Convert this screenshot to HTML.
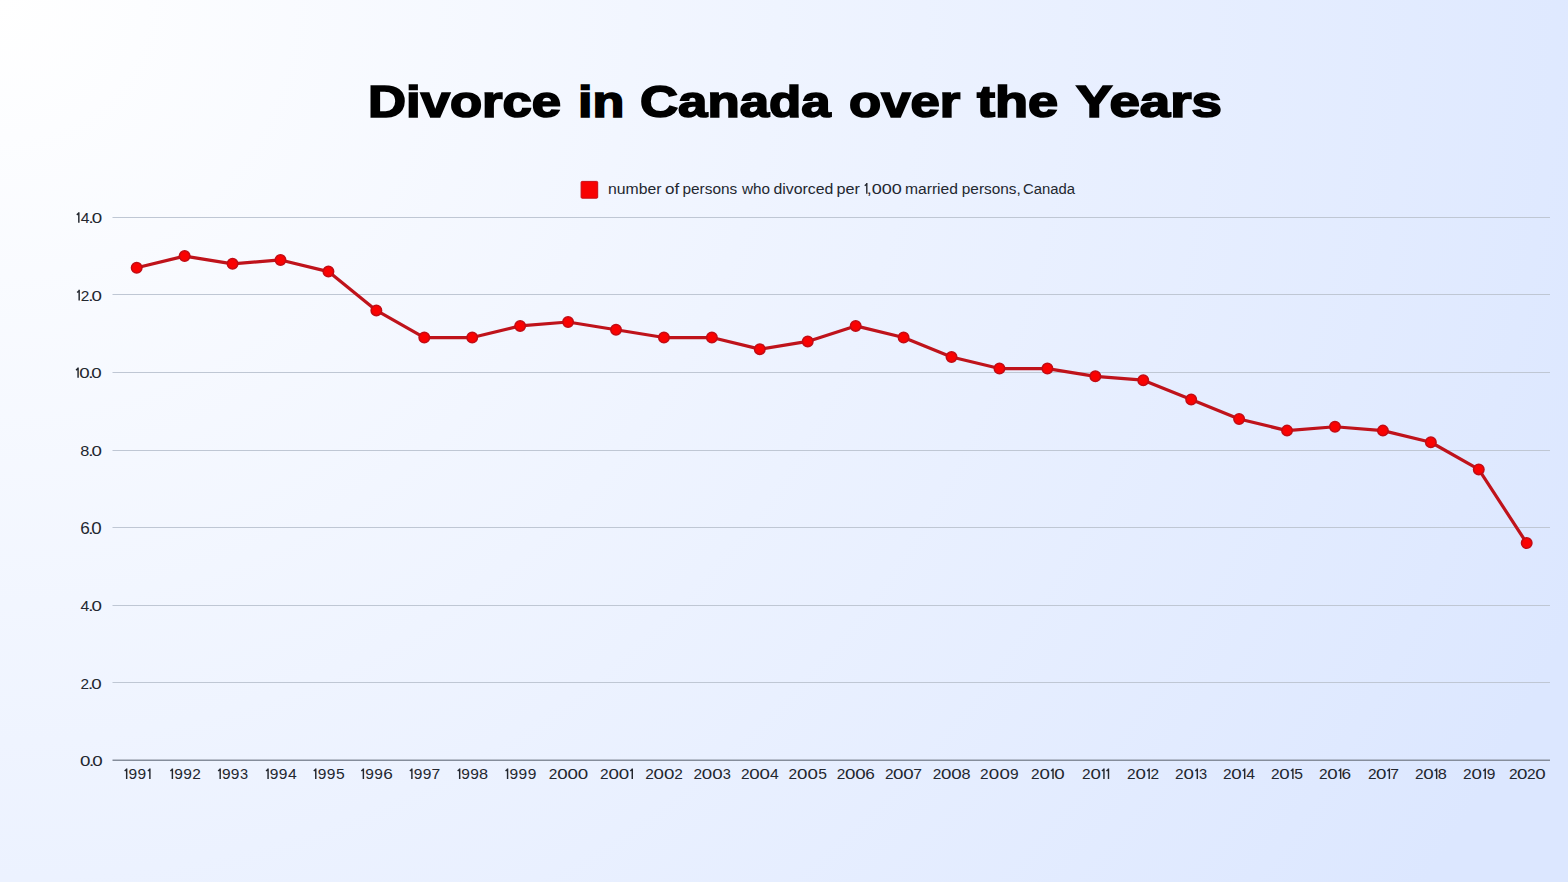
<!DOCTYPE html>
<html><head><meta charset="utf-8"><title>Divorce in Canada over the Years</title><style>
html,body{margin:0;padding:0;}
body{width:1568px;height:882px;overflow:hidden;position:relative;
background:radial-gradient(1700px 1620px at 0 0,#ffffff 0%,#dce7ff 100%);
font-family:"Liberation Sans",sans-serif;}
svg{position:absolute;left:0;top:0;}
.leg{font-family:"Liberation Sans",sans-serif;font-size:15.25px;fill:#23272f;}
.lab{font-family:"Liberation Sans",sans-serif;font-size:15px;fill:#23272f;}
.title{position:absolute;white-space:nowrap;font-family:"Liberation Sans",sans-serif;font-weight:bold;
font-size:44px;line-height:normal;color:#000;-webkit-text-stroke:1.7px #000;transform-origin:0 0;}
</style></head><body>
<div class="title" style="left:368.19px;top:76.7px;transform:scaleX(1.1966)">Divorce</div>
<div class="title" style="left:578.19px;top:76.7px;transform:scaleX(1.1857)">in</div>
<div class="title" style="left:640.20px;top:76.7px;transform:scaleX(1.1992)">Canada</div>
<div class="title" style="left:848.62px;top:76.7px;transform:scaleX(1.1963)">over</div>
<div class="title" style="left:977.27px;top:76.7px;transform:scaleX(1.2302)">the</div>
<div class="title" style="left:1076.47px;top:76.7px;transform:scaleX(1.2423)">Years</div>
<svg width="1568" height="882" viewBox="0 0 1568 882">
<line x1="112.5" y1="682.5" x2="1550.0" y2="682.5" stroke="#bfc7d4" stroke-width="1"/>
<line x1="112.5" y1="605.5" x2="1550.0" y2="605.5" stroke="#bfc7d4" stroke-width="1"/>
<line x1="112.5" y1="527.5" x2="1550.0" y2="527.5" stroke="#bfc7d4" stroke-width="1"/>
<line x1="112.5" y1="450.5" x2="1550.0" y2="450.5" stroke="#bfc7d4" stroke-width="1"/>
<line x1="112.5" y1="372.5" x2="1550.0" y2="372.5" stroke="#bfc7d4" stroke-width="1"/>
<line x1="112.5" y1="294.5" x2="1550.0" y2="294.5" stroke="#bfc7d4" stroke-width="1"/>
<line x1="112.5" y1="217.5" x2="1550.0" y2="217.5" stroke="#bfc7d4" stroke-width="1"/>
<line x1="112.5" y1="760.3" x2="1550.0" y2="760.3" stroke="#858d9b" stroke-width="1.5"/>
<path d="M78.83 212.20V222.80M76.80 214.85L78.83 213.05" stroke="#23272f" stroke-width="1.45" fill="none" stroke-linejoin="bevel"/>
<text class="lab" transform="matrix(1.0526 0 0 1.0000 80.73 222.80)">4</text>
<text class="lab" transform="matrix(1.3571 0 0 1.0000 88.27 222.80)">.</text>
<text class="lab" transform="matrix(1.2500 0 0 1.0000 91.65 222.80)">0</text>
<path d="M79.17 289.85V300.50M77.15 292.50L79.17 290.70" stroke="#23272f" stroke-width="1.45" fill="none" stroke-linejoin="bevel"/>
<text class="lab" transform="matrix(1.0294 0 0 1.0047 80.83 300.50)">2</text>
<text class="lab" transform="matrix(1.3571 0 0 1.0000 88.06 300.50)">.</text>
<text class="lab" transform="matrix(1.2500 0 0 1.0047 91.50 300.50)">0</text>
<path d="M78.08 367.50V377.80M76.05 370.15L78.08 368.35" stroke="#23272f" stroke-width="1.45" fill="none" stroke-linejoin="bevel"/>
<text class="lab" transform="matrix(1.2500 0 0 0.9717 79.22 377.80)">0</text>
<text class="lab" transform="matrix(1.3571 0 0 1.0000 87.94 377.80)">.</text>
<text class="lab" transform="matrix(1.2500 0 0 0.9717 91.25 377.80)">0</text>
<text class="lab" transform="matrix(1.0857 0 0 1.0189 80.34 455.80)">8</text>
<text class="lab" transform="matrix(1.3571 0 0 1.0000 88.08 455.80)">.</text>
<text class="lab" transform="matrix(1.2500 0 0 1.0189 91.50 455.80)">0</text>
<text class="lab" transform="matrix(1.1449 0 0 1.0377 80.28 533.50)">6</text>
<text class="lab" transform="matrix(1.3571 0 0 1.0000 88.05 533.50)">.</text>
<text class="lab" transform="matrix(1.2500 0 0 1.0377 91.35 533.50)">0</text>
<text class="lab" transform="matrix(1.0526 0 0 1.0000 80.48 610.70)">4</text>
<text class="lab" transform="matrix(1.3571 0 0 1.0000 88.10 610.70)">.</text>
<text class="lab" transform="matrix(1.2500 0 0 1.0000 91.50 610.70)">0</text>
<text class="lab" transform="matrix(1.0294 0 0 1.0283 80.38 688.60)">2</text>
<text class="lab" transform="matrix(1.3571 0 0 1.0000 87.85 688.60)">.</text>
<text class="lab" transform="matrix(1.2500 0 0 1.0283 91.35 688.60)">0</text>
<text class="lab" transform="matrix(1.2500 0 0 1.0000 80.05 766.00)">0</text>
<text class="lab" transform="matrix(1.3571 0 0 1.0000 88.83 766.00)">.</text>
<text class="lab" transform="matrix(1.2500 0 0 1.0000 92.15 766.00)">0</text>
<path d="M126.67 768.40V779.00M124.65 771.05L126.67 769.25" stroke="#23272f" stroke-width="1.45" fill="none" stroke-linejoin="bevel"/>
<text class="lab" transform="matrix(1.0362 0 0 1.0000 128.54 779.00)">9</text>
<text class="lab" transform="matrix(1.0362 0 0 1.0000 137.56 779.00)">9</text>
<path d="M149.88 768.40V779.00M147.85 771.05L149.88 769.25" stroke="#23272f" stroke-width="1.45" fill="none" stroke-linejoin="bevel"/>
<path d="M172.38 768.40V779.00M170.35 771.05L172.38 769.25" stroke="#23272f" stroke-width="1.45" fill="none" stroke-linejoin="bevel"/>
<text class="lab" transform="matrix(1.0362 0 0 1.0000 174.24 779.00)">9</text>
<text class="lab" transform="matrix(1.0362 0 0 1.0000 183.26 779.00)">9</text>
<text class="lab" transform="matrix(1.0294 0 0 1.0000 192.18 779.00)">2</text>
<path d="M220.18 768.40V779.00M218.15 771.05L220.18 769.25" stroke="#23272f" stroke-width="1.45" fill="none" stroke-linejoin="bevel"/>
<text class="lab" transform="matrix(1.0362 0 0 1.0000 221.94 779.00)">9</text>
<text class="lab" transform="matrix(1.0362 0 0 1.0000 230.86 779.00)">9</text>
<text class="lab" transform="matrix(0.9718 0 0 1.0000 239.92 779.00)">3</text>
<path d="M268.07 768.40V779.00M266.05 771.05L268.07 769.25" stroke="#23272f" stroke-width="1.45" fill="none" stroke-linejoin="bevel"/>
<text class="lab" transform="matrix(1.0362 0 0 1.0000 269.84 779.00)">9</text>
<text class="lab" transform="matrix(1.0362 0 0 1.0000 278.76 779.00)">9</text>
<text class="lab" transform="matrix(1.0526 0 0 1.0000 288.08 779.00)">4</text>
<path d="M315.77 768.40V779.00M313.75 771.05L315.77 769.25" stroke="#23272f" stroke-width="1.45" fill="none" stroke-linejoin="bevel"/>
<text class="lab" transform="matrix(1.0362 0 0 1.0000 317.74 779.00)">9</text>
<text class="lab" transform="matrix(1.0362 0 0 1.0000 326.86 779.00)">9</text>
<text class="lab" transform="matrix(1.0423 0 0 1.0000 336.07 779.00)">5</text>
<path d="M363.38 768.40V779.00M361.35 771.05L363.38 769.25" stroke="#23272f" stroke-width="1.45" fill="none" stroke-linejoin="bevel"/>
<text class="lab" transform="matrix(1.0362 0 0 1.0000 365.27 779.00)">9</text>
<text class="lab" transform="matrix(1.0362 0 0 1.0000 374.32 779.00)">9</text>
<text class="lab" transform="matrix(1.1449 0 0 1.0000 383.18 779.00)">6</text>
<path d="M411.88 768.40V779.00M409.85 771.05L411.88 769.25" stroke="#23272f" stroke-width="1.45" fill="none" stroke-linejoin="bevel"/>
<text class="lab" transform="matrix(1.0362 0 0 1.0000 413.71 779.00)">9</text>
<text class="lab" transform="matrix(1.0362 0 0 1.0000 422.69 779.00)">9</text>
<text class="lab" transform="matrix(1.0441 0 0 1.0000 431.56 779.00)">7</text>
<path d="M459.68 768.40V779.00M457.65 771.05L459.68 769.25" stroke="#23272f" stroke-width="1.45" fill="none" stroke-linejoin="bevel"/>
<text class="lab" transform="matrix(1.0362 0 0 1.0000 461.37 779.00)">9</text>
<text class="lab" transform="matrix(1.0362 0 0 1.0000 470.22 779.00)">9</text>
<text class="lab" transform="matrix(1.0857 0 0 1.0000 479.04 779.00)">8</text>
<path d="M507.57 768.40V779.00M505.55 771.05L507.57 769.25" stroke="#23272f" stroke-width="1.45" fill="none" stroke-linejoin="bevel"/>
<text class="lab" transform="matrix(1.0362 0 0 1.0000 509.52 779.00)">9</text>
<text class="lab" transform="matrix(1.0362 0 0 1.0000 518.62 779.00)">9</text>
<text class="lab" transform="matrix(1.0362 0 0 1.0000 527.72 779.00)">9</text>
<text class="lab" transform="matrix(1.0294 0 0 1.0000 548.83 779.00)">2</text>
<text class="lab" transform="matrix(1.2500 0 0 1.0000 557.18 779.00)">0</text>
<text class="lab" transform="matrix(1.2500 0 0 1.0000 567.47 779.00)">0</text>
<text class="lab" transform="matrix(1.2500 0 0 1.0000 577.75 779.00)">0</text>
<text class="lab" transform="matrix(1.0294 0 0 1.0000 600.08 779.00)">2</text>
<text class="lab" transform="matrix(1.2500 0 0 1.0000 608.42 779.00)">0</text>
<text class="lab" transform="matrix(1.2500 0 0 1.0000 618.68 779.00)">0</text>
<path d="M632.27 768.40V779.00M630.25 771.05L632.27 769.25" stroke="#23272f" stroke-width="1.45" fill="none" stroke-linejoin="bevel"/>
<text class="lab" transform="matrix(1.0294 0 0 1.0000 645.18 779.00)">2</text>
<text class="lab" transform="matrix(1.2500 0 0 1.0000 653.58 779.00)">0</text>
<text class="lab" transform="matrix(1.2500 0 0 1.0000 663.92 779.00)">0</text>
<text class="lab" transform="matrix(1.0294 0 0 1.0000 674.18 779.00)">2</text>
<text class="lab" transform="matrix(1.0294 0 0 1.0000 693.38 779.00)">2</text>
<text class="lab" transform="matrix(1.2500 0 0 1.0000 701.82 779.00)">0</text>
<text class="lab" transform="matrix(1.2500 0 0 1.0000 712.18 779.00)">0</text>
<text class="lab" transform="matrix(0.9718 0 0 1.0000 722.72 779.00)">3</text>
<text class="lab" transform="matrix(1.0294 0 0 1.0000 740.88 779.00)">2</text>
<text class="lab" transform="matrix(1.2500 0 0 1.0000 749.18 779.00)">0</text>
<text class="lab" transform="matrix(1.2500 0 0 1.0000 759.42 779.00)">0</text>
<text class="lab" transform="matrix(1.0526 0 0 1.0000 770.08 779.00)">4</text>
<text class="lab" transform="matrix(1.0294 0 0 1.0000 788.48 779.00)">2</text>
<text class="lab" transform="matrix(1.2500 0 0 1.0000 797.08 779.00)">0</text>
<text class="lab" transform="matrix(1.2500 0 0 1.0000 807.62 779.00)">0</text>
<text class="lab" transform="matrix(1.0423 0 0 1.0000 818.27 779.00)">5</text>
<text class="lab" transform="matrix(1.0294 0 0 1.0000 836.68 779.00)">2</text>
<text class="lab" transform="matrix(1.2500 0 0 1.0000 844.98 779.00)">0</text>
<text class="lab" transform="matrix(1.2500 0 0 1.0000 855.22 779.00)">0</text>
<text class="lab" transform="matrix(1.1449 0 0 1.0000 865.28 779.00)">6</text>
<text class="lab" transform="matrix(1.0294 0 0 1.0000 884.88 779.00)">2</text>
<text class="lab" transform="matrix(1.2500 0 0 1.0000 893.08 779.00)">0</text>
<text class="lab" transform="matrix(1.2500 0 0 1.0000 903.22 779.00)">0</text>
<text class="lab" transform="matrix(1.0441 0 0 1.0000 913.26 779.00)">7</text>
<text class="lab" transform="matrix(1.0294 0 0 1.0000 932.68 779.00)">2</text>
<text class="lab" transform="matrix(1.2500 0 0 1.0000 941.02 779.00)">0</text>
<text class="lab" transform="matrix(1.2500 0 0 1.0000 951.28 779.00)">0</text>
<text class="lab" transform="matrix(1.0857 0 0 1.0000 961.54 779.00)">8</text>
<text class="lab" transform="matrix(1.0294 0 0 1.0000 980.08 779.00)">2</text>
<text class="lab" transform="matrix(1.2500 0 0 1.0000 988.80 779.00)">0</text>
<text class="lab" transform="matrix(1.2500 0 0 1.0000 999.45 779.00)">0</text>
<text class="lab" transform="matrix(1.0362 0 0 1.0000 1010.12 779.00)">9</text>
<text class="lab" transform="matrix(1.0294 0 0 1.0000 1031.08 779.00)">2</text>
<text class="lab" transform="matrix(1.2500 0 0 1.0000 1039.42 779.00)">0</text>
<path d="M1053.01 768.40V779.00M1050.98 771.05L1053.01 769.25" stroke="#23272f" stroke-width="1.45" fill="none" stroke-linejoin="bevel"/>
<text class="lab" transform="matrix(1.2500 0 0 1.0000 1054.25 779.00)">0</text>
<text class="lab" transform="matrix(1.0294 0 0 1.0000 1082.08 779.00)">2</text>
<text class="lab" transform="matrix(1.2500 0 0 1.0000 1090.38 779.00)">0</text>
<path d="M1103.94 768.40V779.00M1101.92 771.05L1103.94 769.25" stroke="#23272f" stroke-width="1.45" fill="none" stroke-linejoin="bevel"/>
<path d="M1108.48 768.40V779.00M1106.45 771.05L1108.48 769.25" stroke="#23272f" stroke-width="1.45" fill="none" stroke-linejoin="bevel"/>
<text class="lab" transform="matrix(1.0294 0 0 1.0000 1127.08 779.00)">2</text>
<text class="lab" transform="matrix(1.2500 0 0 1.0000 1135.48 779.00)">0</text>
<path d="M1149.14 768.40V779.00M1147.12 771.05L1149.14 769.25" stroke="#23272f" stroke-width="1.45" fill="none" stroke-linejoin="bevel"/>
<text class="lab" transform="matrix(1.0294 0 0 1.0000 1150.38 779.00)">2</text>
<text class="lab" transform="matrix(1.0294 0 0 1.0000 1174.98 779.00)">2</text>
<text class="lab" transform="matrix(1.2500 0 0 1.0000 1183.52 779.00)">0</text>
<path d="M1197.31 768.40V779.00M1195.28 771.05L1197.31 769.25" stroke="#23272f" stroke-width="1.45" fill="none" stroke-linejoin="bevel"/>
<text class="lab" transform="matrix(0.9718 0 0 1.0000 1198.92 779.00)">3</text>
<text class="lab" transform="matrix(1.0294 0 0 1.0000 1222.88 779.00)">2</text>
<text class="lab" transform="matrix(1.2500 0 0 1.0000 1231.15 779.00)">0</text>
<path d="M1244.68 768.40V779.00M1242.65 771.05L1244.68 769.25" stroke="#23272f" stroke-width="1.45" fill="none" stroke-linejoin="bevel"/>
<text class="lab" transform="matrix(1.0526 0 0 1.0000 1246.28 779.00)">4</text>
<text class="lab" transform="matrix(1.0294 0 0 1.0000 1271.08 779.00)">2</text>
<text class="lab" transform="matrix(1.2500 0 0 1.0000 1279.35 779.00)">0</text>
<path d="M1292.88 768.40V779.00M1290.85 771.05L1292.88 769.25" stroke="#23272f" stroke-width="1.45" fill="none" stroke-linejoin="bevel"/>
<text class="lab" transform="matrix(1.0423 0 0 1.0000 1294.17 779.00)">5</text>
<text class="lab" transform="matrix(1.0294 0 0 1.0000 1318.98 779.00)">2</text>
<text class="lab" transform="matrix(1.2500 0 0 1.0000 1327.18 779.00)">0</text>
<path d="M1340.64 768.40V779.00M1338.62 771.05L1340.64 769.25" stroke="#23272f" stroke-width="1.45" fill="none" stroke-linejoin="bevel"/>
<text class="lab" transform="matrix(1.1449 0 0 1.0000 1341.58 779.00)">6</text>
<text class="lab" transform="matrix(1.0294 0 0 1.0000 1367.98 779.00)">2</text>
<text class="lab" transform="matrix(1.2500 0 0 1.0000 1376.05 779.00)">0</text>
<path d="M1389.38 768.40V779.00M1387.35 771.05L1389.38 769.25" stroke="#23272f" stroke-width="1.45" fill="none" stroke-linejoin="bevel"/>
<text class="lab" transform="matrix(1.0441 0 0 1.0000 1390.26 779.00)">7</text>
<text class="lab" transform="matrix(1.0294 0 0 1.0000 1414.98 779.00)">2</text>
<text class="lab" transform="matrix(1.2500 0 0 1.0000 1423.18 779.00)">0</text>
<path d="M1436.64 768.40V779.00M1434.62 771.05L1436.64 769.25" stroke="#23272f" stroke-width="1.45" fill="none" stroke-linejoin="bevel"/>
<text class="lab" transform="matrix(1.0857 0 0 1.0000 1437.74 779.00)">8</text>
<text class="lab" transform="matrix(1.0294 0 0 1.0000 1462.88 779.00)">2</text>
<text class="lab" transform="matrix(1.2500 0 0 1.0000 1471.43 779.00)">0</text>
<path d="M1485.24 768.40V779.00M1483.22 771.05L1485.24 769.25" stroke="#23272f" stroke-width="1.45" fill="none" stroke-linejoin="bevel"/>
<text class="lab" transform="matrix(1.0362 0 0 1.0000 1486.72 779.00)">9</text>
<text class="lab" transform="matrix(1.0294 0 0 1.0000 1508.88 779.00)">2</text>
<text class="lab" transform="matrix(1.2500 0 0 1.0000 1517.02 779.00)">0</text>
<text class="lab" transform="matrix(1.0294 0 0 1.0000 1527.01 779.00)">2</text>
<text class="lab" transform="matrix(1.2500 0 0 1.0000 1535.15 779.00)">0</text>
<polyline points="136.70,267.72 184.63,256.09 232.56,263.84 280.49,259.96 328.42,271.60 376.36,310.39 424.29,337.54 472.22,337.54 520.15,325.90 568.08,322.02 616.01,329.78 663.94,337.54 711.87,337.54 759.80,349.17 807.73,341.41 855.67,325.90 903.60,337.54 951.53,356.93 999.46,368.56 1047.39,368.56 1095.32,376.32 1143.25,380.20 1191.18,399.59 1239.11,418.99 1287.04,430.62 1334.98,426.74 1382.91,430.62 1430.84,442.26 1478.77,469.41 1526.70,543.10" fill="none" stroke="#bf131b" stroke-width="3.2" stroke-linejoin="round"/>
<circle cx="136.70" cy="267.72" r="5.25" fill="#fa0202" stroke="#c20c14" stroke-width="1.5"/>
<circle cx="184.63" cy="256.09" r="5.25" fill="#fa0202" stroke="#c20c14" stroke-width="1.5"/>
<circle cx="232.56" cy="263.84" r="5.25" fill="#fa0202" stroke="#c20c14" stroke-width="1.5"/>
<circle cx="280.49" cy="259.96" r="5.25" fill="#fa0202" stroke="#c20c14" stroke-width="1.5"/>
<circle cx="328.42" cy="271.60" r="5.25" fill="#fa0202" stroke="#c20c14" stroke-width="1.5"/>
<circle cx="376.36" cy="310.39" r="5.25" fill="#fa0202" stroke="#c20c14" stroke-width="1.5"/>
<circle cx="424.29" cy="337.54" r="5.25" fill="#fa0202" stroke="#c20c14" stroke-width="1.5"/>
<circle cx="472.22" cy="337.54" r="5.25" fill="#fa0202" stroke="#c20c14" stroke-width="1.5"/>
<circle cx="520.15" cy="325.90" r="5.25" fill="#fa0202" stroke="#c20c14" stroke-width="1.5"/>
<circle cx="568.08" cy="322.02" r="5.25" fill="#fa0202" stroke="#c20c14" stroke-width="1.5"/>
<circle cx="616.01" cy="329.78" r="5.25" fill="#fa0202" stroke="#c20c14" stroke-width="1.5"/>
<circle cx="663.94" cy="337.54" r="5.25" fill="#fa0202" stroke="#c20c14" stroke-width="1.5"/>
<circle cx="711.87" cy="337.54" r="5.25" fill="#fa0202" stroke="#c20c14" stroke-width="1.5"/>
<circle cx="759.80" cy="349.17" r="5.25" fill="#fa0202" stroke="#c20c14" stroke-width="1.5"/>
<circle cx="807.73" cy="341.41" r="5.25" fill="#fa0202" stroke="#c20c14" stroke-width="1.5"/>
<circle cx="855.67" cy="325.90" r="5.25" fill="#fa0202" stroke="#c20c14" stroke-width="1.5"/>
<circle cx="903.60" cy="337.54" r="5.25" fill="#fa0202" stroke="#c20c14" stroke-width="1.5"/>
<circle cx="951.53" cy="356.93" r="5.25" fill="#fa0202" stroke="#c20c14" stroke-width="1.5"/>
<circle cx="999.46" cy="368.56" r="5.25" fill="#fa0202" stroke="#c20c14" stroke-width="1.5"/>
<circle cx="1047.39" cy="368.56" r="5.25" fill="#fa0202" stroke="#c20c14" stroke-width="1.5"/>
<circle cx="1095.32" cy="376.32" r="5.25" fill="#fa0202" stroke="#c20c14" stroke-width="1.5"/>
<circle cx="1143.25" cy="380.20" r="5.25" fill="#fa0202" stroke="#c20c14" stroke-width="1.5"/>
<circle cx="1191.18" cy="399.59" r="5.25" fill="#fa0202" stroke="#c20c14" stroke-width="1.5"/>
<circle cx="1239.11" cy="418.99" r="5.25" fill="#fa0202" stroke="#c20c14" stroke-width="1.5"/>
<circle cx="1287.04" cy="430.62" r="5.25" fill="#fa0202" stroke="#c20c14" stroke-width="1.5"/>
<circle cx="1334.98" cy="426.74" r="5.25" fill="#fa0202" stroke="#c20c14" stroke-width="1.5"/>
<circle cx="1382.91" cy="430.62" r="5.25" fill="#fa0202" stroke="#c20c14" stroke-width="1.5"/>
<circle cx="1430.84" cy="442.26" r="5.25" fill="#fa0202" stroke="#c20c14" stroke-width="1.5"/>
<circle cx="1478.77" cy="469.41" r="5.25" fill="#fa0202" stroke="#c20c14" stroke-width="1.5"/>
<circle cx="1526.70" cy="543.10" r="5.25" fill="#fa0202" stroke="#c20c14" stroke-width="1.5"/>
<rect x="581.1" y="181.4" width="16.6" height="16.8" rx="1" fill="#f80202" stroke="#c80c14" stroke-width="1"/>
<text class="leg" transform="matrix(1.0357 0 0 1 607.96 193.7)">number</text>
<text class="leg" transform="matrix(1.1157 0 0 1 664.93 193.7)">of</text>
<text class="leg" transform="matrix(1.0095 0 0 1 682.49 193.7)">persons</text>
<text class="leg" transform="matrix(1.0000 0 0 1 741.90 193.7)">who</text>
<text class="leg" transform="matrix(1.0411 0 0 1 773.48 193.7)">divorced</text>
<text class="leg" transform="matrix(1.0625 0 0 1 836.54 193.7)">per</text>
<text class="leg" transform="matrix(1.1841 0 0 1 866.64 193.7)">,000</text>
<text class="leg" transform="matrix(1.0262 0 0 1 904.97 193.7)">married</text>
<text class="leg" transform="matrix(1.0089 0 0 1 961.79 193.7)">persons,</text>
<text class="leg" transform="matrix(0.9753 0 0 1 1022.92 193.7)">Canada</text>
<path d="M866.80 183.10V193.70M864.75 185.75L866.80 183.95" stroke="#23272f" stroke-width="1.4" fill="none" stroke-linejoin="bevel"/>
</svg>
</body></html>
